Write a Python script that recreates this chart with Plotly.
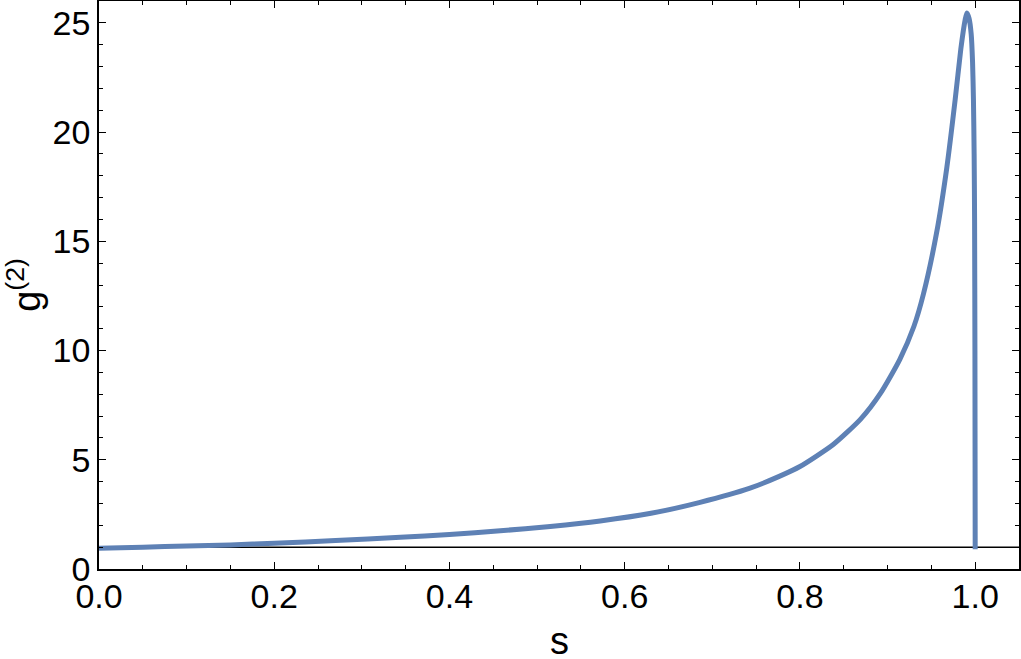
import plotly.graph_objects as go

# Curve values
s_vals = [0.0, 0.05, 0.1, 0.15, 0.2, 0.27, 0.344, 0.4, 0.458, 0.515, 0.572, 0.63, 0.686,
          0.743, 0.777, 0.8, 0.838, 0.869, 0.892, 0.914, 0.930, 0.941, 0.956, 0.9677,
          0.9772, 0.9836, 0.9886, 0.9905, 0.993, 0.9954, 0.997, 0.998,
          0.9988, 0.9993, 0.9997, 1.0]
g2_vals = [0.95, 1.0, 1.05, 1.1, 1.18, 1.3, 1.45, 1.58, 1.75, 1.95, 2.2, 2.55, 3.05,
           3.7, 4.25, 4.69, 5.7, 6.85, 8.05, 9.6, 11.1, 12.6, 15.4, 18.4,
           21.5, 23.8, 25.15, 25.45, 25.2, 24.5, 23.2, 21.5,
           19.0, 16.0, 10.0, 0.9]

# Reference horizontal line
ref_s = [0.0, 1.05]
ref_g = [1.0, 1.0]

x_ticks = [0.0, 0.2, 0.4, 0.6, 0.8, 1.0]
y_ticks = [0, 5, 10, 15, 20, 25]

fig = go.Figure()
fig.add_trace(go.Scatter(x=ref_s, y=ref_g, mode="lines",
                         line=dict(color="black", width=1.5), showlegend=False))
fig.add_trace(go.Scatter(x=s_vals, y=g2_vals, mode="lines",
                         line=dict(color="#5E81B5", width=5, shape="spline", smoothing=0.6),
                         showlegend=False))

tick_font = dict(family="Liberation Sans, Arial, sans-serif", size=34, color="black")
title_font = dict(family="Liberation Sans, Arial, sans-serif", size=38, color="black")

fig.update_layout(
    width=1021, height=659,
    margin=dict(l=99, r=2, t=1, b=90),
    paper_bgcolor="white", plot_bgcolor="white",
    font=tick_font,
)
fig.update_xaxes(
    range=[0, 1.05], tickvals=x_ticks, tickformat=".1f", automargin=False,
    ticks="inside", ticklen=7, tickwidth=1.3, tickcolor="black",
    showline=True, linecolor="black", linewidth=1.5, mirror="allticks",
    showgrid=False, zeroline=False, tickfont=tick_font, ticklabelstandoff=-4,
    minor=dict(dtick=0.05, tick0=0, ticks="inside", ticklen=4, tickcolor="black", tickwidth=1),
)
fig.update_yaxes(
    range=[0, 26.0], tickvals=y_ticks, automargin=False,
    ticks="inside", ticklen=7, tickwidth=1.3, tickcolor="black",
    showline=True, linecolor="black", linewidth=1.5, mirror="allticks",
    showgrid=False, zeroline=False, tickfont=tick_font,
    minor=dict(dtick=1, tick0=0, ticks="inside", ticklen=4, tickcolor="black", tickwidth=1),
    title=dict(text="g<sup>(2)</sup>", font=title_font, standoff=6),
)
# x-axis title placed as an annotation so it can sit lower than the margin allows
fig.add_annotation(text="s", xref="paper", yref="paper", x=0.5, y=-0.127,
                   xanchor="center", yanchor="middle", showarrow=False, font=title_font)

fig.write_html("out.html", config={"displayModeBar": False},
               post_script="document.body.style.margin='0';")
